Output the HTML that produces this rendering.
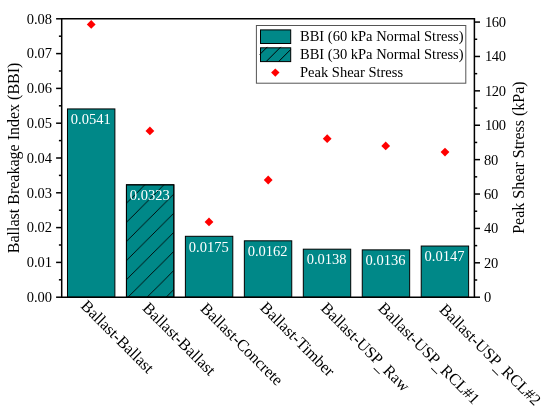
<!DOCTYPE html>
<html><head><meta charset="utf-8"><title>Chart</title>
<style>html,body{margin:0;padding:0;background:#fff}svg{display:block}text{font-family:"Liberation Serif","Times New Roman",serif;fill:#000}</style>
</head><body>
<svg width="550" height="410" viewBox="0 0 550 410">
<defs><pattern id="h" patternUnits="userSpaceOnUse" width="19.1" height="19.1" x="5.00" y="0"><path d="M-1,20.1 L20.1,-1 M-1,1 L1,-1 M18.1,20.1 L20.1,18.1" stroke="#000" stroke-width="0.9" fill="none"/></pattern></defs>
<rect width="550" height="410" fill="#fff"/>
<rect x="67.48" y="108.93" width="47.40" height="188.27" fill="#008888" stroke="#000" stroke-width="1"/>
<text x="90.78" y="124.13" font-size="14.5" text-anchor="middle" style="fill:#fff">0.0541</text>
<rect x="126.44" y="184.80" width="47.40" height="112.40" fill="#008888" stroke="#000" stroke-width="1"/>
<rect x="126.44" y="184.80" width="47.40" height="112.40" fill="url(#h)" stroke="#000" stroke-width="1"/>
<text x="149.74" y="200.00" font-size="14.5" text-anchor="middle" style="fill:#fff">0.0323</text>
<rect x="185.39" y="236.30" width="47.40" height="60.90" fill="#008888" stroke="#000" stroke-width="1"/>
<text x="208.69" y="251.50" font-size="14.5" text-anchor="middle" style="fill:#fff">0.0175</text>
<rect x="244.35" y="240.82" width="47.40" height="56.38" fill="#008888" stroke="#000" stroke-width="1"/>
<text x="267.65" y="256.02" font-size="14.5" text-anchor="middle" style="fill:#fff">0.0162</text>
<rect x="303.31" y="249.18" width="47.40" height="48.02" fill="#008888" stroke="#000" stroke-width="1"/>
<text x="326.61" y="264.38" font-size="14.5" text-anchor="middle" style="fill:#fff">0.0138</text>
<rect x="362.26" y="249.87" width="47.40" height="47.33" fill="#008888" stroke="#000" stroke-width="1"/>
<text x="385.56" y="265.07" font-size="14.5" text-anchor="middle" style="fill:#fff">0.0136</text>
<rect x="421.22" y="246.04" width="47.40" height="51.16" fill="#008888" stroke="#000" stroke-width="1"/>
<text x="444.52" y="261.24" font-size="14.5" text-anchor="middle" style="fill:#fff">0.0147</text>
<path d="M91.20,20.00 L95.60,24.40 L91.20,28.80 L86.80,24.40 Z" fill="#ff0000"/>
<path d="M149.90,126.50 L154.30,130.90 L149.90,135.30 L145.50,130.90 Z" fill="#ff0000"/>
<path d="M209.00,217.50 L213.40,221.90 L209.00,226.30 L204.60,221.90 Z" fill="#ff0000"/>
<path d="M268.20,175.60 L272.60,180.00 L268.20,184.40 L263.80,180.00 Z" fill="#ff0000"/>
<path d="M327.20,134.30 L331.60,138.70 L327.20,143.10 L322.80,138.70 Z" fill="#ff0000"/>
<path d="M385.70,141.50 L390.10,145.90 L385.70,150.30 L381.30,145.90 Z" fill="#ff0000"/>
<path d="M445.00,147.70 L449.40,152.10 L445.00,156.50 L440.60,152.10 Z" fill="#ff0000"/>
<g stroke="#000" stroke-width="1.5" fill="none">
<path d="M60.95,18.80 H475.15"/>
<path d="M60.95,297.20 H475.15"/>
<path d="M61.70,18.80 V297.20"/>
<path d="M474.40,18.80 V297.20"/>
<path d="M56.10,297.20 H61.70"/>
<path d="M58.90,279.80 H61.70"/>
<path d="M56.10,262.40 H61.70"/>
<path d="M58.90,245.00 H61.70"/>
<path d="M56.10,227.60 H61.70"/>
<path d="M58.90,210.20 H61.70"/>
<path d="M56.10,192.80 H61.70"/>
<path d="M58.90,175.40 H61.70"/>
<path d="M56.10,158.00 H61.70"/>
<path d="M58.90,140.60 H61.70"/>
<path d="M56.10,123.20 H61.70"/>
<path d="M58.90,105.80 H61.70"/>
<path d="M56.10,88.40 H61.70"/>
<path d="M58.90,71.00 H61.70"/>
<path d="M56.10,53.60 H61.70"/>
<path d="M58.90,36.20 H61.70"/>
<path d="M56.10,18.80 H61.70"/>
<path d="M474.40,297.20 H480.00"/>
<path d="M474.40,280.00 H477.20"/>
<path d="M474.40,262.81 H480.00"/>
<path d="M474.40,245.61 H477.20"/>
<path d="M474.40,228.42 H480.00"/>
<path d="M474.40,211.22 H477.20"/>
<path d="M474.40,194.03 H480.00"/>
<path d="M474.40,176.83 H477.20"/>
<path d="M474.40,159.63 H480.00"/>
<path d="M474.40,142.44 H477.20"/>
<path d="M474.40,125.24 H480.00"/>
<path d="M474.40,108.05 H477.20"/>
<path d="M474.40,90.85 H480.00"/>
<path d="M474.40,73.66 H477.20"/>
<path d="M474.40,56.46 H480.00"/>
<path d="M474.40,39.27 H477.20"/>
<path d="M474.40,22.07 H480.00"/>
</g>
<text x="52.1" y="301.90" font-size="14.5" text-anchor="end">0.00</text>
<text x="52.1" y="267.10" font-size="14.5" text-anchor="end">0.01</text>
<text x="52.1" y="232.30" font-size="14.5" text-anchor="end">0.02</text>
<text x="52.1" y="197.50" font-size="14.5" text-anchor="end">0.03</text>
<text x="52.1" y="162.70" font-size="14.5" text-anchor="end">0.04</text>
<text x="52.1" y="127.90" font-size="14.5" text-anchor="end">0.05</text>
<text x="52.1" y="93.10" font-size="14.5" text-anchor="end">0.06</text>
<text x="52.1" y="58.30" font-size="14.5" text-anchor="end">0.07</text>
<text x="52.1" y="23.50" font-size="14.5" text-anchor="end">0.08</text>
<text x="483.90" y="302.10" font-size="14.5" letter-spacing="-0.10">0</text>
<text x="483.90" y="267.71" font-size="14.5" letter-spacing="-0.10">20</text>
<text x="483.90" y="233.32" font-size="14.5" letter-spacing="-0.10">40</text>
<text x="483.90" y="198.93" font-size="14.5" letter-spacing="-0.10">60</text>
<text x="483.90" y="164.53" font-size="14.5" letter-spacing="-0.10">80</text>
<text x="484.90" y="130.14" font-size="14.5" letter-spacing="-0.35">100</text>
<text x="484.90" y="95.75" font-size="14.5" letter-spacing="-0.35">120</text>
<text x="484.90" y="61.36" font-size="14.5" letter-spacing="-0.35">140</text>
<text x="484.90" y="26.97" font-size="14.5" letter-spacing="-0.35">160</text>
<text transform="translate(19.3,157.9) rotate(-90)" font-size="16" text-anchor="middle">Ballast Breakage Index (BBI)</text>
<text transform="translate(523.7,157.6) rotate(-90)" font-size="16" text-anchor="middle">Peak Shear Stress (kPa)</text>
<text transform="translate(80.08,306.80) rotate(45)" font-size="16.2">Ballast-Ballast</text>
<text transform="translate(141.74,309.00) rotate(45)" font-size="16.2">Ballast-Ballast</text>
<text transform="translate(199.59,309.40) rotate(45)" font-size="16.2">Ballast-Concrete</text>
<text transform="translate(259.35,308.50) rotate(45)" font-size="16.2">Ballast-Timber</text>
<text transform="translate(319.91,309.10) rotate(45)" font-size="16.2">Ballast-USP<tspan dy="2">_</tspan><tspan dy="-2">Raw</tspan></text>
<text transform="translate(377.26,309.10) rotate(45)" font-size="16.2">Ballast-USP<tspan dy="2">_</tspan><tspan dy="-2">RCL#1</tspan></text>
<text transform="translate(438.42,310.40) rotate(45)" font-size="16.2">Ballast-USP<tspan dy="2">_</tspan><tspan dy="-2">RCL#2</tspan></text>
<rect x="256.4" y="25.5" width="209.4" height="57.7" fill="#fff" stroke="#555" stroke-width="1"/>
<rect x="260.5" y="29.9" width="30.2" height="13.6" fill="#008888" stroke="#000" stroke-width="1"/>
<rect x="260.5" y="47.8" width="30.2" height="13.8" fill="#008888" stroke="#000" stroke-width="1"/>
<path d="M259.7,54.6 L267.4,46.9 M266.2,61.5 L280.8,46.9 M278.7,61.5 L290.5,49.7" stroke="#000" stroke-width="1" fill="none"/>
<path d="M275.30,68.40 L279.50,72.60 L275.30,76.80 L271.10,72.60 Z" fill="#ff0000"/>
<text x="300" y="41.40" font-size="14.5">BBI (60 kPa Normal Stress)</text>
<text x="300" y="59.40" font-size="14.5">BBI (30 kPa Normal Stress)</text>
<text x="300" y="77.40" font-size="14.5">Peak Shear Stress</text>
</svg></body></html>
